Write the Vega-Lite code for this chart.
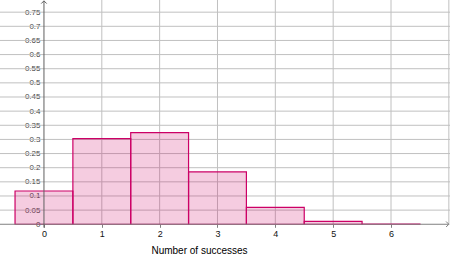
{
  "$schema": "https://vega.github.io/schema/vega-lite/v6.json",
  "width": 450,
  "height": 276,
  "autosize": {"type": "none"},
  "padding": 0,
  "background": "white",
  "config": {"view": {"stroke": null}, "font": "Liberation Sans"},
  "datasets": {
    "bars": [
      {"k": 0, "lo": -0.5, "hi": 0.5, "p": 0.1176},
      {"k": 1, "lo": 0.5, "hi": 1.5, "p": 0.3025},
      {"k": 2, "lo": 1.5, "hi": 2.5, "p": 0.3241},
      {"k": 3, "lo": 2.5, "hi": 3.5, "p": 0.1852},
      {"k": 4, "lo": 3.5, "hi": 4.5, "p": 0.0595},
      {"k": 5, "lo": 4.5, "hi": 5.5, "p": 0.0102},
      {"k": 6, "lo": 5.5, "hi": 6.5, "p": 0.0007}
    ],
    "ygrid": [
      {"v": 0.05}, {"v": 0.1}, {"v": 0.15}, {"v": 0.2}, {"v": 0.25}, {"v": 0.3},
      {"v": 0.35}, {"v": 0.4}, {"v": 0.45}, {"v": 0.5}, {"v": 0.55}, {"v": 0.6},
      {"v": 0.65}, {"v": 0.7}, {"v": 0.75}
    ],
    "xgrid": [
      {"v": 1}, {"v": 2}, {"v": 3}, {"v": 4}, {"v": 5}, {"v": 6}, {"v": 7}
    ],
    "one": [{"a": 1}]
  },
  "resolve": {"axis": {"x": "shared", "y": "shared"}},
  "layer": [
    {
      "data": {"name": "ygrid"},
      "mark": {"type": "rule", "color": "#c0c0c0", "strokeWidth": 1},
      "encoding": {
        "y": {"field": "v", "type": "quantitative",
              "scale": {"domain": [-0.183, 0.793], "nice": false, "zero": false},
              "axis": {"orient": "left", "offset": -44,
                       "values": [0, 0.05, 0.1, 0.15, 0.2, 0.25, 0.3, 0.35, 0.4, 0.45, 0.5, 0.55, 0.6, 0.65, 0.7, 0.75],
                       "format": "~g", "domain": false, "grid": false, "ticks": false,
                       "labelFontSize": 8, "labelColor": "#444", "labelPadding": 4, "labelFont": "Liberation Sans",
                       "title": null}}
      }
    },
    {
      "data": {"name": "xgrid"},
      "mark": {"type": "rule", "color": "#c0c0c0", "strokeWidth": 1},
      "encoding": {
        "x": {"field": "v", "type": "quantitative",
              "scale": {"domain": [-0.76, 7.02], "nice": false, "zero": false},
              "axis": {"orient": "bottom", "offset": -51.7, "values": [0, 1, 2, 3, 4, 5, 6], "format": "d",
                       "domain": false, "grid": false, "ticks": true, "tickSize": 3, "tickColor": "#808080",
                       "labelFontSize": 9, "labelColor": "#111", "labelPadding": 2, "labelFont": "Liberation Sans",
                       "title": "Number of successes", "titleFontSize": 10, "titleFontWeight": "normal",
                       "titleColor": "#000", "titleFont": "Liberation Sans",
                       "titleX": 199, "titleY": 26, "titleAlign": "center", "titleBaseline": "middle"}},
        "y": {"datum": 0, "type": "quantitative",
              "axis": {"orient": "left", "offset": -44,
                       "values": [0, 0.05, 0.1, 0.15, 0.2, 0.25, 0.3, 0.35, 0.4, 0.45, 0.5, 0.55, 0.6, 0.65, 0.7, 0.75],
                       "format": "~g", "domain": false, "grid": false, "ticks": false,
                       "labelFontSize": 8, "labelColor": "#444", "labelPadding": 4, "labelFont": "Liberation Sans",
                       "title": null}},
        "y2": {"datum": 0.793}
      }
    },
    {
      "data": {"name": "bars"},
      "mark": {"type": "rect", "fill": "#cc0066", "fillOpacity": 0.2, "stroke": "#cc0066", "strokeWidth": 1.2},
      "encoding": {
        "x": {"field": "lo", "type": "quantitative",
              "axis": {"orient": "bottom", "offset": -51.7, "values": [0, 1, 2, 3, 4, 5, 6], "format": "d",
                       "domain": false, "grid": false, "ticks": true, "tickSize": 3, "tickColor": "#808080",
                       "labelFontSize": 9, "labelColor": "#111", "labelPadding": 2, "labelFont": "Liberation Sans",
                       "title": "Number of successes", "titleFontSize": 10, "titleFontWeight": "normal",
                       "titleColor": "#000", "titleFont": "Liberation Sans",
                       "titleX": 199, "titleY": 26, "titleAlign": "center", "titleBaseline": "middle"}},
        "x2": {"field": "hi"},
        "y": {"field": "p", "type": "quantitative",
              "axis": {"orient": "left", "offset": -44,
                       "values": [0, 0.05, 0.1, 0.15, 0.2, 0.25, 0.3, 0.35, 0.4, 0.45, 0.5, 0.55, 0.6, 0.65, 0.7, 0.75],
                       "format": "~g", "domain": false, "grid": false, "ticks": false,
                       "labelFontSize": 8, "labelColor": "#444", "labelPadding": 4, "labelFont": "Liberation Sans",
                       "title": null}},
        "y2": {"datum": 0}
      }
    },
    {
      "data": {"name": "one"},
      "mark": {"type": "rule", "color": "#808080", "strokeWidth": 1},
      "encoding": {
        "x": {"datum": -0.76, "type": "quantitative",
              "axis": {"orient": "bottom", "offset": -51.7, "values": [0, 1, 2, 3, 4, 5, 6], "format": "d",
                       "domain": false, "grid": false, "ticks": true, "tickSize": 3, "tickColor": "#808080",
                       "labelFontSize": 9, "labelColor": "#111", "labelPadding": 2, "labelFont": "Liberation Sans",
                       "title": "Number of successes", "titleFontSize": 10, "titleFontWeight": "normal",
                       "titleColor": "#000", "titleFont": "Liberation Sans",
                       "titleX": 199, "titleY": 26, "titleAlign": "center", "titleBaseline": "middle"}},
        "x2": {"datum": 7.0},
        "y": {"datum": 0, "type": "quantitative",
              "axis": {"orient": "left", "offset": -44,
                       "values": [0, 0.05, 0.1, 0.15, 0.2, 0.25, 0.3, 0.35, 0.4, 0.45, 0.5, 0.55, 0.6, 0.65, 0.7, 0.75],
                       "format": "~g", "domain": false, "grid": false, "ticks": false,
                       "labelFontSize": 8, "labelColor": "#444", "labelPadding": 4, "labelFont": "Liberation Sans",
                       "title": null}}
      }
    },
    {
      "data": {"name": "one"},
      "mark": {"type": "rule", "color": "#606060", "strokeWidth": 1},
      "encoding": {
        "x": {"datum": 0, "type": "quantitative",
              "axis": {"orient": "bottom", "offset": -51.7, "values": [0, 1, 2, 3, 4, 5, 6], "format": "d",
                       "domain": false, "grid": false, "ticks": true, "tickSize": 3, "tickColor": "#808080",
                       "labelFontSize": 9, "labelColor": "#111", "labelPadding": 2, "labelFont": "Liberation Sans",
                       "title": "Number of successes", "titleFontSize": 10, "titleFontWeight": "normal",
                       "titleColor": "#000", "titleFont": "Liberation Sans",
                       "titleX": 199, "titleY": 26, "titleAlign": "center", "titleBaseline": "middle"}},
        "y": {"datum": -0.012, "type": "quantitative",
              "axis": {"orient": "left", "offset": -44,
                       "values": [0, 0.05, 0.1, 0.15, 0.2, 0.25, 0.3, 0.35, 0.4, 0.45, 0.5, 0.55, 0.6, 0.65, 0.7, 0.75],
                       "format": "~g", "domain": false, "grid": false, "ticks": false,
                       "labelFontSize": 8, "labelColor": "#444", "labelPadding": 4, "labelFont": "Liberation Sans",
                       "title": null}},
        "y2": {"datum": 0.79}
      }
    },
    {
      "data": {"name": "one"},
      "mark": {"type": "point", "shape": "M-1,-1L0,0L-1,1", "filled": false, "stroke": "#808080", "strokeWidth": 1, "size": 30, "opacity": 1},
      "encoding": {
        "x": {"datum": 7.0, "type": "quantitative",
              "axis": {"orient": "bottom", "offset": -51.7, "values": [0, 1, 2, 3, 4, 5, 6], "format": "d",
                       "domain": false, "grid": false, "ticks": true, "tickSize": 3, "tickColor": "#808080",
                       "labelFontSize": 9, "labelColor": "#111", "labelPadding": 2, "labelFont": "Liberation Sans",
                       "title": "Number of successes", "titleFontSize": 10, "titleFontWeight": "normal",
                       "titleColor": "#000", "titleFont": "Liberation Sans",
                       "titleX": 199, "titleY": 26, "titleAlign": "center", "titleBaseline": "middle"}},
        "y": {"datum": 0, "type": "quantitative",
              "axis": {"orient": "left", "offset": -44,
                       "values": [0, 0.05, 0.1, 0.15, 0.2, 0.25, 0.3, 0.35, 0.4, 0.45, 0.5, 0.55, 0.6, 0.65, 0.7, 0.75],
                       "format": "~g", "domain": false, "grid": false, "ticks": false,
                       "labelFontSize": 8, "labelColor": "#444", "labelPadding": 4, "labelFont": "Liberation Sans",
                       "title": null}}
      }
    },
    {
      "data": {"name": "one"},
      "mark": {"type": "point", "shape": "M-1,1L0,0L1,1", "filled": false, "stroke": "#606060", "strokeWidth": 1, "size": 30, "opacity": 1},
      "encoding": {
        "x": {"datum": 0, "type": "quantitative",
              "axis": {"orient": "bottom", "offset": -51.7, "values": [0, 1, 2, 3, 4, 5, 6], "format": "d",
                       "domain": false, "grid": false, "ticks": true, "tickSize": 3, "tickColor": "#808080",
                       "labelFontSize": 9, "labelColor": "#111", "labelPadding": 2, "labelFont": "Liberation Sans",
                       "title": "Number of successes", "titleFontSize": 10, "titleFontWeight": "normal",
                       "titleColor": "#000", "titleFont": "Liberation Sans",
                       "titleX": 199, "titleY": 26, "titleAlign": "center", "titleBaseline": "middle"}},
        "y": {"datum": 0.79, "type": "quantitative",
              "axis": {"orient": "left", "offset": -44,
                       "values": [0, 0.05, 0.1, 0.15, 0.2, 0.25, 0.3, 0.35, 0.4, 0.45, 0.5, 0.55, 0.6, 0.65, 0.7, 0.75],
                       "format": "~g", "domain": false, "grid": false, "ticks": false,
                       "labelFontSize": 8, "labelColor": "#444", "labelPadding": 4, "labelFont": "Liberation Sans",
                       "title": null}}
      }
    }
  ]
}
